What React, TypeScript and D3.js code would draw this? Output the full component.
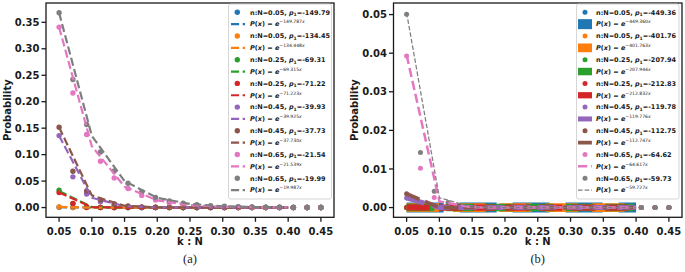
import React from 'react';
import * as d3 from 'd3';

// ---------- data ----------
const kN = [0.05, 0.0711, 0.0921, 0.1132, 0.1342, 0.1553, 0.1763, 0.1974, 0.2184, 0.2395,
  0.2605, 0.2816, 0.3026, 0.3237, 0.3447, 0.3658, 0.3868, 0.4079, 0.4289, 0.45];
const fitK = [0.05, 0.10, 0.15, 0.20, 0.25, 0.30, 0.35, 0.40];
const nN = ['0.05', '0.05', '0.25', '0.25', '0.45', '0.45', '0.65', '0.65'];
const xTicks = [0.05, 0.10, 0.15, 0.20, 0.25, 0.30, 0.35, 0.40, 0.45];
const aYTicks = [0, 0.05, 0.10, 0.15, 0.20, 0.25, 0.30, 0.35];
const bYTicks = [0, 0.01, 0.02, 0.03, 0.04, 0.05];

// panel (a) observed probabilities
const aBlue = [0.0006, 0.0001, 0, 0, 0, 0, 0, 0, 0, 0, 0, 0, 0, 0, 0, 0, 0, 0, 0, 0];
const aOrange = [0.0012, 0.0001, 0, 0, 0, 0, 0, 0, 0, 0, 0, 0, 0, 0, 0, 0, 0, 0, 0, 0];
const aGreen = [0.0327, 0.0075, 0.0017, 0.0004, 0.0001, 0, 0, 0, 0, 0, 0, 0, 0, 0, 0, 0, 0, 0, 0, 0];
const aRed = [0.0283, 0.0076, 0.0006, 0.0002, 0.0001, 0, 0, 0, 0, 0, 0, 0, 0, 0, 0, 0, 0, 0, 0, 0];
const aPurple = [0.136, 0.058, 0.0255, 0.011, 0.0048, 0.0021, 0.0009, 0.0004, 0.0002, 0.0001, 0, 0, 0, 0, 0, 0, 0, 0, 0, 0];
const aBrown = [0.1517, 0.0686, 0.0315, 0.0145, 0.0066, 0.003, 0.0013, 0.0006, 0.0003, 0.0001, 0.0001, 0, 0, 0, 0, 0, 0, 0, 0, 0];
const aPink = [0.341, 0.2165, 0.138, 0.0875, 0.056, 0.036, 0.023, 0.0145, 0.0093, 0.0059, 0.0038, 0.0024, 0.0015, 0.001, 0.0006, 0.0004, 0.0003, 0.0002, 0.0001, 0.0001];
const aGray = [0.368, 0.242, 0.157, 0.105, 0.069, 0.046, 0.030, 0.019, 0.0126, 0.0084, 0.0056, 0.0037, 0.0024, 0.0016, 0.0011, 0.0007, 0.0005, 0.0003, 0.0002, 0.0001];

// panel (a) fitted curves at fitK
const aFitBlue = [0.000559, 0, 0, 0, 0, 0, 0, 0];
const aFitOrange = [0.0012, 0.0000015, 0, 0, 0, 0, 0, 0];
const aFitGreen = [0.03124, 0.000977, 0.0000305, 0.000001, 0, 0, 0, 0];
const aFitRed = [0.0284, 0.000807, 0.0000229, 0.0000007, 0, 0, 0, 0];
const aFitPurple = [0.1358, 0.01846, 0.002507, 0.00034, 0.0000463, 0.0000063, 0.0000009, 0.0000001];
const aFitBrown = [0.1516, 0.02299, 0.003485, 0.000528, 0.00008, 0.0000121, 0.0000018, 0.0000003];
const aFitPink = [0.3406, 0.116, 0.03952, 0.01346, 0.004586, 0.001562, 0.000532, 0.000181];
const aFitGray = [0.3681, 0.1355, 0.0499, 0.01837, 0.00676, 0.00249, 0.000917, 0.000338];

// panel (b) observed probabilities
const bBlue = [0, 0, 0, 0, 0, 0, 0, 0, 0, 0, 0, 0, 0, 0, 0, 0, 0, 0, 0, 0];
const bOrange = [0, 0, 0, 0, 0, 0, 0, 0, 0, 0, 0, 0, 0, 0, 0, 0, 0, 0, 0, 0];
const bGreen = [0.00003, 0, 0, 0, 0, 0, 0, 0, 0, 0, 0, 0, 0, 0, 0, 0, 0, 0, 0, 0];
const bRed = [0.00002, 0, 0, 0, 0, 0, 0, 0, 0, 0, 0, 0, 0, 0, 0, 0, 0, 0, 0, 0];
const bPurple = [0.0025, 0.0002, 0, 0, 0, 0, 0, 0, 0, 0, 0, 0, 0, 0, 0, 0, 0, 0, 0, 0];
const bBrown = [0.0036, 0.0004, 0.00003, 0, 0, 0, 0, 0, 0, 0, 0, 0, 0, 0, 0, 0, 0, 0, 0, 0];
const bPink = [0.0393, 0.0102, 0.0026, 0.0007, 0.0002, 0.00005, 0, 0, 0, 0, 0, 0, 0, 0, 0, 0, 0, 0, 0, 0];
const bGray = [0.0501, 0.0143, 0.0042, 0.0013, 0.0004, 0.0001, 0, 0, 0, 0, 0, 0, 0, 0, 0, 0, 0, 0, 0, 0];

// panel (b) fitted curves at fitK
const bFitBlue = [0, 0, 0, 0, 0, 0, 0, 0];
const bFitOrange = [0, 0, 0, 0, 0, 0, 0, 0];
const bFitGreen = [0.0000305, 0, 0, 0, 0, 0, 0, 0];
const bFitRed = [0.0000239, 0, 0, 0, 0, 0, 0, 0];
const bFitPurple = [0.002507, 0.0000063, 0, 0, 0, 0, 0, 0];
const bFitBrown = [0.003562, 0.0000127, 0, 0, 0, 0, 0, 0];
const bFitPink = [0.03952, 0.001562, 0.0000617, 0.0000024, 0, 0, 0, 0];
const bFitGray = [0.05047, 0.002548, 0.000129, 0.0000065, 0, 0, 0, 0];

const aP1 = ['-149.79', '-134.45', '-69.31', '-71.22', '-39.93', '-37.73', '-21.54', '-19.99'];
const aExp = ['149.787', '134.448', '69.315', '71.223', '39.925', '37.730', '21.539', '19.987'];
const bP1 = ['-449.36', '-401.76', '-207.94', '-212.83', '-119.78', '-112.75', '-64.62', '-59.73'];
const bExp = ['449.360', '401.763', '207.944', '212.832', '119.776', '112.747', '64.617', '59.727'];

// ---------- styles ----------
const COLORS = ['#1f77b4', '#ff7f0e', '#2ca02c', '#d62728', '#9467bd', '#8c564b', '#e377c2', '#7f7f7f'];
const FONT = 'DejaVu Sans, sans-serif';
const INK = '#1a1a1a';

type PanelProps = {
  box: { l: number; r: number; t: number; b: number };
  yDomain: [number, number];
  yTicks: number[];
  scatters: number[][];
  fits: number[][];
  p1: string[];
  exps: string[];
  widths: number[];
  leg: { x0: number; x1: number; y0: number; y1: number; mx: number; h0: number; h1: number; tx: number };
  yLabelX: number;
  caption: string;
  dotR: number;
};

function Panel(p: PanelProps) {
  const { box } = p;
  const x = d3.scaleLinear().domain([0.03, 0.47]).range([box.l, box.r]);
  const y = d3.scaleLinear().domain(p.yDomain).range([box.b, box.t]);
  const line = d3.line<[number, number]>().x(d => x(d[0])).y(d => y(d[1]));
  const fmt = d3.format('.2f');
  const cx = (box.l + box.r) / 2;
  const cy = (box.t + box.b) / 2;
  const rowY = (i: number) => p.leg.y0 + 8.3 + i * 11.85;
  const fs = 6.5;
  return (
    <g>
      {/* scatters */}
      {p.scatters.map((s, si) => (
        <g key={'s' + si}>
          {s.map((v, i) => (
            <circle key={i} cx={x(kN[i])} cy={y(v)} r={p.dotR} fill={COLORS[si]} />
          ))}
        </g>
      ))}
      {/* fits */}
      {p.fits.map((f, si) => (
        <path
          key={'f' + si}
          d={line(f.map((v, i) => [fitK[i], v] as [number, number])) || ''}
          fill="none"
          stroke={COLORS[si]}
          strokeWidth={p.widths[si]}
          strokeDasharray={`${3.7 * p.widths[si]},${1.6 * p.widths[si]}`}
          strokeLinejoin="round"
        />
      ))}
      {/* frame */}
      <rect x={box.l} y={box.t} width={box.r - box.l} height={box.b - box.t} fill="none" stroke={INK} strokeWidth={1.3} />
      {/* x ticks */}
      {xTicks.map(t => (
        <g key={'xt' + t}>
          <line x1={x(t)} x2={x(t)} y1={box.b} y2={box.b + 4.5} stroke={INK} strokeWidth={1.3} />
          <text x={x(t)} y={box.b + 17.3} textAnchor="middle" fontFamily={FONT} fontWeight="bold" fontSize={10} fill={INK}>
            {fmt(t)}
          </text>
        </g>
      ))}
      {/* y ticks */}
      {p.yTicks.map(t => (
        <g key={'yt' + t}>
          <line x1={box.l - 4.5} x2={box.l} y1={y(t)} y2={y(t)} stroke={INK} strokeWidth={1.3} />
          <text x={box.l - 6.5} y={y(t) + 3.6} textAnchor="end" fontFamily={FONT} fontWeight="bold" fontSize={10} fill={INK}>
            {fmt(t)}
          </text>
        </g>
      ))}
      {/* axis labels */}
      <text x={cx} y={box.b + 27.5} textAnchor="middle" fontFamily={FONT} fontWeight="bold" fontSize={10} fill={INK}>
        k : N
      </text>
      <text
        transform={`translate(${p.yLabelX},${cy}) rotate(-90)`}
        textAnchor="middle"
        fontFamily={FONT}
        fontWeight="bold"
        fontSize={10}
        fill={INK}
      >
        Probability
      </text>
      {/* caption */}
      <text x={cx} y={263} textAnchor="middle" fontFamily="Liberation Serif, serif" fontSize={12.5} fill="#222">
        {p.caption}
      </text>
      {/* legend */}
      <rect
        x={p.leg.x0}
        y={p.leg.y0}
        width={p.leg.x1 - p.leg.x0}
        height={p.leg.y1 - p.leg.y0}
        rx={2}
        fill="white"
        fillOpacity={0.8}
        stroke="#cccccc"
        strokeWidth={0.8}
      />
      {COLORS.map((c, si) => {
        const y1 = rowY(si * 2);
        const y2 = rowY(si * 2 + 1);
        const w = p.widths[si];
        return (
          <g key={'lg' + si}>
            <circle cx={p.leg.mx} cy={y1} r={p.dotR} fill={c} />
            <text x={p.leg.tx} y={y1 + 2.3} fontFamily={FONT} fontWeight="bold" fontSize={fs} fill={INK}>
              <tspan>{`n:N=${nN[si]}, `}</tspan>
              <tspan fontStyle="italic">p</tspan>
              <tspan fontSize={fs * 0.7} dy={1.5}>1</tspan>
              <tspan dy={-1.5}>{`=${p.p1[si]}`}</tspan>
            </text>
            <line
              x1={p.leg.h0}
              x2={p.leg.h1}
              y1={y2}
              y2={y2}
              stroke={c}
              strokeWidth={w}
              strokeDasharray={`${3.7 * w},${1.6 * w}`}
            />
            <text x={p.leg.tx} y={y2 + 2.3} fontFamily={FONT} fontWeight="bold" fontSize={fs} fill={INK}>
              <tspan fontStyle="italic">P</tspan>
              <tspan>(</tspan>
              <tspan fontStyle="italic">x</tspan>
              <tspan>{') = '}</tspan>
              <tspan fontStyle="italic">e</tspan>
              <tspan fontSize={fs * 0.7} dy={-3} fontWeight="normal">{`\u2212${p.exps[si]}`}</tspan>
              <tspan fontSize={fs * 0.7} fontStyle="italic" fontWeight="normal">x</tspan>
            </text>
          </g>
        );
      })}
    </g>
  );
}

export default function App() {
  const wA = [2.2, 2.2, 2.2, 2.2, 2.2, 2.2, 2.2, 2.2];
  const wB = [10, 8.75, 7.5, 6.25, 5, 3.75, 2.5, 1.25];
  return (
    <svg width={685} height={272} style={{ position: 'absolute', left: 0, top: 0, background: 'white' }}>
      <rect x={0} y={0} width={685} height={272} fill="white" />
      <Panel
        box={{ l: 46, r: 334, t: 3, b: 217.3 }}
        yDomain={[-0.0184, 0.3865]}
        yTicks={aYTicks}
        scatters={[aBlue, aOrange, aGreen, aRed, aPurple, aBrown, aPink, aGray]}
        fits={[aFitBlue, aFitOrange, aFitGreen, aFitRed, aFitPurple, aFitBrown, aFitPink, aFitGray]}
        p1={aP1}
        exps={aExp}
        widths={wA}
        leg={{ x0: 228.5, x1: 331.5, y0: 4, y1: 199, mx: 237.3, h0: 231, h1: 245, tx: 250 }}
        yLabelX={11}
        caption="(a)"
        dotR={2.7}
      />
      <Panel
        box={{ l: 393.5, r: 682, t: 3, b: 217.3 }}
        yDomain={[-0.00252, 0.053]}
        yTicks={bYTicks}
        scatters={[bBlue, bOrange, bGreen, bRed, bPurple, bBrown, bPink, bGray]}
        fits={[bFitBlue, bFitOrange, bFitGreen, bFitRed, bFitPurple, bFitBrown, bFitPink, bFitGray]}
        p1={bP1}
        exps={bExp}
        widths={wB}
        leg={{ x0: 576.5, x1: 679, y0: 4, y1: 199, mx: 585, h0: 578, h1: 592, tx: 596 }}
        yLabelX={358}
        caption="(b)"
        dotR={2.5}
      />
    </svg>
  );
}
